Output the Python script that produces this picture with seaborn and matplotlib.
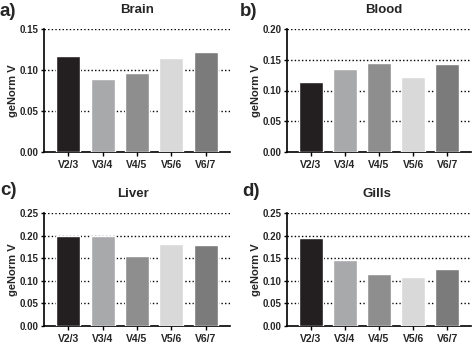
import matplotlib
matplotlib.use("Agg")
import matplotlib.pyplot as plt
import seaborn as sns
import pandas as pd

categories = ["V2/3", "V3/4", "V4/5", "V5/6", "V6/7"]
brain = [0.117, 0.0885, 0.0965, 0.115, 0.122]
blood = [0.114, 0.135, 0.145, 0.122, 0.143]
liver = [0.200, 0.199, 0.154, 0.181, 0.179]
gills = [0.195, 0.147, 0.115, 0.1075, 0.126]
titles = ["Brain", "Blood", "Liver", "Gills"]
letters = ["a)", "b)", "c)", "d)"]
ymaxes = [0.15, 0.20, 0.25, 0.25]
colors = ["#231f20", "#a8a9ab", "#8e8e8e", "#d9d9d9", "#7b7b7b"]

sns.set_theme(style="white")
plt.rcParams["font.family"] = ["Liberation Sans", "DejaVu Sans"]
plt.rcParams["font.weight"] = "bold"

W, H = 474, 348
fig = plt.figure(figsize=(W / 100, H / 100), dpi=100)

# pixel boxes: left, right, top, bottom
boxes = [(44, 230, 29, 152), (287, 471, 29, 152), (44, 230, 213, 326), (287, 471, 213, 326)]
title_pos = [(137, 10), (384, 10), (133, 194), (377, 194)]
letter_pos = [(0, 11), (240, 11), (0, 190), (242, 192)]
datasets = [brain, blood, liver, gills]

for i, vals in enumerate(datasets):
    l, r, t, b = boxes[i]
    ax = fig.add_axes([l / W, 1 - b / H, (r - l) / W, (b - t) / H])
    df = pd.DataFrame({"pair": categories, "v": vals})
    sns.barplot(data=df, x="pair", y="v", hue="pair", palette=colors, legend=False,
                width=0.70, ax=ax, zorder=3, saturation=1)
    ymax = ymaxes[i]
    ticks = [round(k * 0.05, 2) for k in range(int(round(ymax / 0.05)) + 1)]
    ax.set_ylim(0, ymax)
    ax.set_xlim(-0.7, 4.7)
    ax.set_yticks(ticks)
    ax.set_yticklabels([f"{v:.2f}" for v in ticks], fontsize=7, fontweight="bold")
    for v in ticks[1:]:
        ax.axhline(v, color="black", linestyle=(0, (1, 1.6)), linewidth=1.0, zorder=1)
    ax.set_xticks(range(len(categories)))
    ax.set_xticklabels(categories, fontsize=7.5, fontweight="bold")
    ax.set_xlabel("")
    ax.set_ylabel("geNorm V", fontsize=8, fontweight="bold")
    ax.yaxis.set_label_coords(-26.0 / (r - l), 0.5)
    for s in ["top", "right"]:
        ax.spines[s].set_visible(False)
    for s in ["left", "bottom"]:
        ax.spines[s].set_color("black")
        ax.spines[s].set_linewidth(1.2)
    ax.tick_params(axis="y", direction="out", length=2.5, width=1.0,
                   color="black", pad=1.2, left=True)
    ax.tick_params(axis="x", direction="out", length=3, width=1.0,
                   color="black", pad=2.5, bottom=True)
    tx, ty = title_pos[i]
    fig.text(tx / W, 1 - ty / H, titles[i], ha="center", va="center",
             fontsize=9.5, fontweight="bold")
    lx, ly = letter_pos[i]
    fig.text(lx / W, 1 - ly / H, letters[i], ha="left", va="center",
             fontsize=13.5, fontweight="bold")

fig.savefig("out.png", dpi=100)
